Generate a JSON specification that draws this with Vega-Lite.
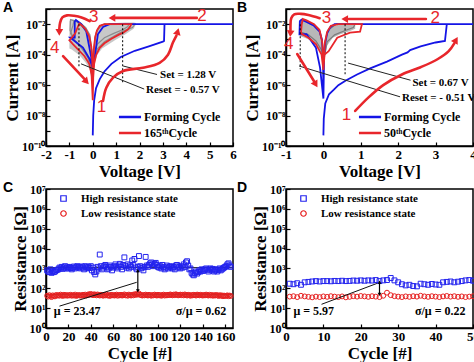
{
"$schema":"https://vega.github.io/schema/vega-lite/v6.json",
"background":"white",
"padding":{"left":2,"top":0,"right":0,"bottom":0},
"bounds":"flush",
"config":{
 "font":"Liberation Serif",
 "view":{"stroke":"black","strokeWidth":1.5},
 "axis":{"grid":false,"domainColor":"black","domainWidth":1.5,"tickColor":"black","tickWidth":1.2,"tickSize":-4,"labelPadding":6,"labelFont":"Liberation Serif","labelFontSize":13,"labelFontWeight":"bold","labelColor":"black","titleFont":"Liberation Serif","titleFontSize":17,"titleFontWeight":"bold","titleColor":"black","labelOverlap":false,"labelFlush":false},
 "axisX":{"titlePadding":2,"labelExpr":"replace(datum.label,'−','-')"},
 "axisY":{"titlePadding":0,"labelPadding":5,"labelFontSize":12}
},
"columns":2,
"spacing":{"row":43,"column":53},
"resolve":{"scale":{"x":"independent","y":"independent","color":"independent","shape":"independent"},"legend":{"color":"independent","shape":"independent"}},
"datasets":{
 "aLines":[
  {"s":"Forming Cycle","o":1,"V":0,"I":5e-10},{"s":"Forming Cycle","o":2,"V":0.02,"I":1e-8},{"s":"Forming Cycle","o":3,"V":0.06,"I":1e-7},{"s":"Forming Cycle","o":4,"V":0.14,"I":6.3e-7},{"s":"Forming Cycle","o":5,"V":0.3,"I":2.5e-6},{"s":"Forming Cycle","o":6,"V":0.5,"I":7.9e-6},{"s":"Forming Cycle","o":7,"V":0.8,"I":2.5e-5},{"s":"Forming Cycle","o":8,"V":1.2,"I":7.1e-5},{"s":"Forming Cycle","o":9,"V":1.8,"I":1.8e-4},{"s":"Forming Cycle","o":10,"V":2.4,"I":3.5e-4},{"s":"Forming Cycle","o":11,"V":3.0,"I":7.1e-4},{"s":"Forming Cycle","o":12,"V":3.05,"I":8e-4},{"s":"Forming Cycle","o":13,"V":3.07,"I":1e-2},{"s":"Forming Cycle","o":14,"V":6.0,"I":1e-2},{"s":"Forming Cycle","o":15,"V":0.72,"I":1e-2},{"s":"Forming Cycle","o":16,"V":0.44,"I":6.6e-3},{"s":"Forming Cycle","o":17,"V":0.22,"I":2.2e-3},{"s":"Forming Cycle","o":18,"V":0.08,"I":6.3e-5},{"s":"Forming Cycle","o":19,"V":0,"I":1.3e-5},{"s":"Forming Cycle","o":20,"V":-0.06,"I":6.3e-5},{"s":"Forming Cycle","o":21,"V":-0.28,"I":3.5e-3},{"s":"Forming Cycle","o":22,"V":-0.49,"I":1e-2},{"s":"Forming Cycle","o":23,"V":-0.72,"I":1.9e-2},{"s":"Forming Cycle","o":24,"V":-0.77,"I":1.5e-2},{"s":"Forming Cycle","o":25,"V":-0.77,"I":1.3e-3},{"s":"Forming Cycle","o":26,"V":-0.96,"I":1.3e-3},{"s":"Forming Cycle","o":27,"V":-0.42,"I":2.9e-4},{"s":"Forming Cycle","o":28,"V":-0.13,"I":5e-5},{"s":"Forming Cycle","o":29,"V":0,"I":1.3e-5},
  {"s":"165ᵗʰCycle","o":1,"V":0,"I":1e-7},{"s":"165ᵗʰCycle","o":2,"V":0.02,"I":3.2e-6},{"s":"165ᵗʰCycle","o":3,"V":0.06,"I":2.5e-5},{"s":"165ᵗʰCycle","o":4,"V":0.15,"I":1e-4},{"s":"165ᵗʰCycle","o":5,"V":0.3,"I":2.8e-4},{"s":"165ᵗʰCycle","o":6,"V":0.5,"I":5.6e-4},{"s":"165ᵗʰCycle","o":7,"V":0.8,"I":1.1e-3},{"s":"165ᵗʰCycle","o":8,"V":1.1,"I":2e-3},{"s":"165ᵗʰCycle","o":9,"V":1.3,"I":2.8e-3},{"s":"165ᵗʰCycle","o":10,"V":1.5,"I":4.5e-3},{"s":"165ᵗʰCycle","o":11,"V":1.6,"I":7e-3},{"s":"165ᵗʰCycle","o":12,"V":1.65,"I":1e-2},{"s":"165ᵗʰCycle","o":13,"V":0.5,"I":1e-2},{"s":"165ᵗʰCycle","o":14,"V":0.3,"I":7.9e-3},{"s":"165ᵗʰCycle","o":15,"V":0.18,"I":4e-3},{"s":"165ᵗʰCycle","o":16,"V":0.1,"I":1.3e-3},{"s":"165ᵗʰCycle","o":17,"V":0.05,"I":2.5e-4},{"s":"165ᵗʰCycle","o":18,"V":0.02,"I":3.2e-5},{"s":"165ᵗʰCycle","o":19,"V":0,"I":1.6e-7},{"s":"165ᵗʰCycle","o":20,"V":-0.02,"I":3.2e-5},{"s":"165ᵗʰCycle","o":21,"V":-0.06,"I":3.2e-4},{"s":"165ᵗʰCycle","o":22,"V":-0.15,"I":1.6e-3},{"s":"165ᵗʰCycle","o":23,"V":-0.3,"I":4.5e-3},{"s":"165ᵗʰCycle","o":24,"V":-0.45,"I":7.9e-3},{"s":"165ᵗʰCycle","o":25,"V":-0.57,"I":1.1e-2},{"s":"165ᵗʰCycle","o":26,"V":-0.62,"I":7.9e-3},{"s":"165ᵗʰCycle","o":27,"V":-0.75,"I":2.5e-3},{"s":"165ᵗʰCycle","o":28,"V":-0.9,"I":1.3e-3},{"s":"165ᵗʰCycle","o":29,"V":-1.0,"I":8.9e-4},{"s":"165ᵗʰCycle","o":30,"V":-0.85,"I":5e-4},{"s":"165ᵗʰCycle","o":31,"V":-0.6,"I":2e-4},{"s":"165ᵗʰCycle","o":32,"V":-0.35,"I":7.9e-5},{"s":"165ᵗʰCycle","o":33,"V":-0.15,"I":2.5e-5},{"s":"165ᵗʰCycle","o":34,"V":-0.05,"I":5e-6},{"s":"165ᵗʰCycle","o":35,"V":0,"I":1e-7}
 ],
 "aArea":[
  {"b":"n","V":-1.0,"I":2.5e-4,"I2":1.6e-2},{"b":"n","V":-0.9,"I":2.2e-4,"I2":2.2e-2},{"b":"n","V":-0.7,"I":1.3e-4,"I2":1.6e-2},{"b":"n","V":-0.5,"I":7e-5,"I2":1e-2},{"b":"n","V":-0.3,"I":3e-5,"I2":4.5e-3},{"b":"n","V":-0.15,"I":1.3e-5,"I2":1.3e-3},{"b":"n","V":-0.05,"I":5e-6,"I2":2e-4},{"b":"n","V":0,"I":3e-6,"I2":3e-5},
  {"b":"p","V":0.02,"I":3e-6,"I2":3e-5},{"b":"p","V":0.08,"I":3e-5,"I2":1e-3},{"b":"p","V":0.2,"I":1e-4,"I2":5e-3},{"b":"p","V":0.4,"I":2.5e-4,"I2":9e-3},{"b":"p","V":0.7,"I":5e-4,"I2":1.1e-2},{"b":"p","V":1.0,"I":1e-3,"I2":1.2e-2},{"b":"p","V":1.4,"I":2.2e-3,"I2":1.3e-2},{"b":"p","V":1.75,"I":5e-3,"I2":1.3e-2},{"b":"p","V":1.85,"I":1e-2,"I2":1.2e-2}
 ],
 "aGray":[
  {"k":"g1","o":1,"V":0,"I":1e-6},{"k":"g1","o":2,"V":0.05,"I":1e-4},{"k":"g1","o":3,"V":0.2,"I":5e-4},{"k":"g1","o":4,"V":0.5,"I":1.3e-3},{"k":"g1","o":5,"V":0.9,"I":2.5e-3},{"k":"g1","o":6,"V":1.3,"I":4.5e-3},{"k":"g1","o":7,"V":1.5,"I":7e-3},{"k":"g1","o":8,"V":1.55,"I":1.05e-2},{"k":"g1","o":9,"V":0.5,"I":1.05e-2},{"k":"g1","o":10,"V":0.25,"I":6e-3},{"k":"g1","o":11,"V":0.1,"I":1.6e-3},{"k":"g1","o":12,"V":0.03,"I":1e-4},{"k":"g1","o":13,"V":0,"I":1e-6},{"k":"g1","o":14,"V":-0.03,"I":1.3e-4},{"k":"g1","o":15,"V":-0.12,"I":2e-3},{"k":"g1","o":16,"V":-0.3,"I":6e-3},{"k":"g1","o":17,"V":-0.55,"I":1.3e-2},{"k":"g1","o":18,"V":-0.8,"I":1.8e-2},{"k":"g1","o":19,"V":-0.85,"I":8e-3},{"k":"g1","o":20,"V":-0.95,"I":2.5e-3},{"k":"g1","o":21,"V":-0.7,"I":6e-4},{"k":"g1","o":22,"V":-0.4,"I":2e-4},{"k":"g1","o":23,"V":-0.15,"I":5e-5},{"k":"g1","o":24,"V":0,"I":1e-6},
  {"k":"g2","o":1,"V":0,"I":3e-6},{"k":"g2","o":2,"V":0.05,"I":4e-5},{"k":"g2","o":3,"V":0.2,"I":2.5e-4},{"k":"g2","o":4,"V":0.5,"I":7e-4},{"k":"g2","o":5,"V":0.9,"I":1.6e-3},{"k":"g2","o":6,"V":1.3,"I":3.5e-3},{"k":"g2","o":7,"V":1.7,"I":6e-3},{"k":"g2","o":8,"V":1.8,"I":1e-2},{"k":"g2","o":9,"V":0.4,"I":9.5e-3},{"k":"g2","o":10,"V":0.15,"I":3e-3},{"k":"g2","o":11,"V":0.04,"I":2e-4},{"k":"g2","o":12,"V":0,"I":3e-6},{"k":"g2","o":13,"V":-0.04,"I":2e-4},{"k":"g2","o":14,"V":-0.2,"I":2.5e-3},{"k":"g2","o":15,"V":-0.45,"I":7e-3},{"k":"g2","o":16,"V":-0.7,"I":1.5e-2},{"k":"g2","o":17,"V":-0.95,"I":2e-2},{"k":"g2","o":18,"V":-0.97,"I":4e-3},{"k":"g2","o":19,"V":-0.8,"I":1e-3},{"k":"g2","o":20,"V":-0.5,"I":3e-4},{"k":"g2","o":21,"V":-0.2,"I":6e-5},{"k":"g2","o":22,"V":0,"I":3e-6}
 ],
 "aArrows":[
  {"k":"a1","o":1,"V":0.44,"I":9e-8},{"k":"a1","o":2,"V":0.58,"I":6.8e-7},{"k":"a1","o":3,"V":0.87,"I":3.1e-6},{"k":"a1","o":4,"V":1.3,"I":8.5e-6},{"k":"a1","o":5,"V":2.15,"I":1.4e-5},{"k":"a1","o":6,"V":2.86,"I":2.9e-5},{"k":"a1","o":7,"V":3.22,"I":1e-4},{"k":"a1","o":8,"V":3.43,"I":6.3e-4},{"k":"a1","o":9,"V":3.58,"I":1.8e-3},
  {"k":"a2","o":1,"V":4.45,"I":2.6e-2},{"k":"a2","o":2,"V":0.95,"I":2.6e-2},
  {"k":"a3","o":1,"V":-0.13,"I":1.6e-2},{"k":"a3","o":2,"V":-0.45,"I":2.7e-2},{"k":"a3","o":3,"V":-0.8,"I":3.6e-2},{"k":"a3","o":4,"V":-1.1,"I":3.8e-2},{"k":"a3","o":5,"V":-1.3,"I":2.8e-2},{"k":"a3","o":6,"V":-1.4,"I":1.2e-2},{"k":"a3","o":7,"V":-1.43,"I":5e-3},
  {"k":"a4","o":1,"V":-1.27,"I":8e-5},{"k":"a4","o":2,"V":-0.35,"I":2.5e-6}
 ],
 "aHeads":[{"k":"a1","V":3.62,"I":2.8e-3},{"k":"a2","V":0.87,"I":2.6e-2},{"k":"a3","V":-1.43,"I":3.5e-3},{"k":"a4","V":-0.3,"I":1.9e-6}],
 "aNums":[{"t":"1","V":0.37,"I":3.6e-8},{"t":"2","V":4.67,"I":3.5e-2},{"t":"3","V":0.04,"I":3.2e-2},{"t":"4","V":-1.63,"I":2.9e-4}],
 "aDots":[{"V":1.28,"I":1e-2,"I2":1.3e-6},{"V":-0.59,"I":1e-2,"I2":1.3e-5}],
 "aLeaders":[{"k":"s","o":1,"V":2.75,"I":5e-6},{"k":"s","o":2,"V":1.3,"I":1.8e-5},{"k":"r","o":1,"V":2.2,"I":5.5e-7},{"k":"r","o":2,"V":-0.5,"I":2.5e-5}],
 "aTexts":[{"t":"Set = 1.28 V","V":2.88,"I":4.6e-6},{"t":"Reset = - 0.57 V","V":2.28,"I":4.8e-7}],
 "bLines":[
  {"s":"Forming Cycle","o":1,"V":0,"I":5e-10},{"s":"Forming Cycle","o":2,"V":0.01,"I":6.3e-9},{"s":"Forming Cycle","o":3,"V":0.05,"I":6.3e-8},{"s":"Forming Cycle","o":4,"V":0.15,"I":2.5e-7},{"s":"Forming Cycle","o":5,"V":0.28,"I":5e-7},{"s":"Forming Cycle","o":6,"V":0.4,"I":1e-6},{"s":"Forming Cycle","o":7,"V":0.6,"I":2e-6},{"s":"Forming Cycle","o":8,"V":0.9,"I":5e-6},{"s":"Forming Cycle","o":9,"V":1.25,"I":1.26e-5},{"s":"Forming Cycle","o":10,"V":1.7,"I":3.5e-5},{"s":"Forming Cycle","o":11,"V":2.1,"I":1e-4},{"s":"Forming Cycle","o":12,"V":2.25,"I":1.4e-4},{"s":"Forming Cycle","o":13,"V":2.32,"I":2e-4},{"s":"Forming Cycle","o":14,"V":2.6,"I":3.5e-4},{"s":"Forming Cycle","o":15,"V":3.0,"I":6.3e-4},{"s":"Forming Cycle","o":16,"V":3.25,"I":7.9e-4},{"s":"Forming Cycle","o":17,"V":3.3,"I":1e-2},{"s":"Forming Cycle","o":18,"V":4.0,"I":1e-2},{"s":"Forming Cycle","o":19,"V":0.3,"I":1e-2},{"s":"Forming Cycle","o":20,"V":0.18,"I":6.3e-3},{"s":"Forming Cycle","o":21,"V":0.1,"I":2.5e-3},{"s":"Forming Cycle","o":22,"V":0.05,"I":6.3e-4},{"s":"Forming Cycle","o":23,"V":0.02,"I":1e-4},{"s":"Forming Cycle","o":24,"V":0,"I":1.3e-7},{"s":"Forming Cycle","o":25,"V":-0.01,"I":1e-4},{"s":"Forming Cycle","o":26,"V":-0.04,"I":1e-3},{"s":"Forming Cycle","o":27,"V":-0.1,"I":3.2e-3},{"s":"Forming Cycle","o":28,"V":-0.25,"I":7.9e-3},{"s":"Forming Cycle","o":29,"V":-0.45,"I":1.4e-2},{"s":"Forming Cycle","o":30,"V":-0.58,"I":2e-2},{"s":"Forming Cycle","o":31,"V":-0.63,"I":1.6e-2},{"s":"Forming Cycle","o":32,"V":-0.64,"I":2.2e-3},{"s":"Forming Cycle","o":33,"V":-0.45,"I":2.2e-3},{"s":"Forming Cycle","o":34,"V":-0.2,"I":2.9e-4},{"s":"Forming Cycle","o":35,"V":-0.09,"I":1.4e-5},{"s":"Forming Cycle","o":36,"V":0,"I":1.3e-7},
  {"s":"50ᵗʰCycle","o":1,"V":0,"I":1e-5},{"s":"50ᵗʰCycle","o":2,"V":0.03,"I":1e-4},{"s":"50ᵗʰCycle","o":3,"V":0.14,"I":1.7e-4},{"s":"50ᵗʰCycle","o":4,"V":0.37,"I":1.3e-3},{"s":"50ᵗʰCycle","o":5,"V":0.71,"I":2.8e-3},{"s":"50ᵗʰCycle","o":6,"V":0.98,"I":3.2e-3},{"s":"50ᵗʰCycle","o":7,"V":1.03,"I":1e-2},{"s":"50ᵗʰCycle","o":8,"V":0.4,"I":1e-2},{"s":"50ᵗʰCycle","o":9,"V":0.2,"I":7.9e-3},{"s":"50ᵗʰCycle","o":10,"V":0.1,"I":3.2e-3},{"s":"50ᵗʰCycle","o":11,"V":0.04,"I":6.3e-4},{"s":"50ᵗʰCycle","o":12,"V":0,"I":1e-5},{"s":"50ᵗʰCycle","o":13,"V":-0.03,"I":6.3e-4},{"s":"50ᵗʰCycle","o":14,"V":-0.1,"I":4e-3},{"s":"50ᵗʰCycle","o":15,"V":-0.25,"I":1e-2},{"s":"50ᵗʰCycle","o":16,"V":-0.45,"I":1.8e-2},{"s":"50ᵗʰCycle","o":17,"V":-0.55,"I":2.2e-2},{"s":"50ᵗʰCycle","o":18,"V":-0.58,"I":1e-2},{"s":"50ᵗʰCycle","o":19,"V":-0.6,"I":2.5e-3},{"s":"50ᵗʰCycle","o":20,"V":-0.4,"I":1.3e-3},{"s":"50ᵗʰCycle","o":21,"V":-0.2,"I":5e-4},{"s":"50ᵗʰCycle","o":22,"V":-0.05,"I":1e-4},{"s":"50ᵗʰCycle","o":23,"V":0,"I":1e-5}
 ],
 "bArea":[
  {"b":"n","V":-0.62,"I":1.6e-3,"I2":2e-2},{"b":"n","V":-0.5,"I":1.3e-3,"I2":1.6e-2},{"b":"n","V":-0.3,"I":8e-4,"I2":1e-2},{"b":"n","V":-0.15,"I":3e-4,"I2":5e-3},{"b":"n","V":-0.05,"I":1e-4,"I2":1.3e-3},{"b":"n","V":0,"I":3e-5,"I2":1e-4},
  {"b":"p","V":0.02,"I":5e-5,"I2":3e-4},{"b":"p","V":0.1,"I":4e-4,"I2":3e-3},{"b":"p","V":0.25,"I":1.3e-3,"I2":7e-3},{"b":"p","V":0.45,"I":2.2e-3,"I2":1e-2},{"b":"p","V":0.7,"I":3.5e-3,"I2":1.1e-2},{"b":"p","V":0.85,"I":5e-3,"I2":1.1e-2}
 ],
 "bGray":[
  {"k":"g1","o":1,"V":0,"I":3e-5},{"k":"g1","o":2,"V":0.1,"I":7e-4},{"k":"g1","o":3,"V":0.3,"I":2e-3},{"k":"g1","o":4,"V":0.6,"I":4e-3},{"k":"g1","o":5,"V":0.8,"I":6e-3},{"k":"g1","o":6,"V":0.85,"I":1.05e-2},{"k":"g1","o":7,"V":0.35,"I":1.05e-2},{"k":"g1","o":8,"V":0.12,"I":4e-3},{"k":"g1","o":9,"V":0.03,"I":5e-4},{"k":"g1","o":10,"V":0,"I":3e-5},{"k":"g1","o":11,"V":-0.03,"I":7e-4},{"k":"g1","o":12,"V":-0.12,"I":5e-3},{"k":"g1","o":13,"V":-0.3,"I":1.1e-2},{"k":"g1","o":14,"V":-0.5,"I":1.7e-2},{"k":"g1","o":15,"V":-0.6,"I":1.8e-2},{"k":"g1","o":16,"V":-0.6,"I":3e-3},{"k":"g1","o":17,"V":-0.4,"I":2e-3},{"k":"g1","o":18,"V":-0.2,"I":8e-4},{"k":"g1","o":19,"V":-0.05,"I":2e-4},{"k":"g1","o":20,"V":0,"I":3e-5}
 ],
 "bArrows":[
  {"k":"a1","o":1,"V":0.85,"I":2e-8},{"k":"a1","o":2,"V":1.2,"I":1.5e-7},{"k":"a1","o":3,"V":1.6,"I":1e-6},{"k":"a1","o":4,"V":2.1,"I":5e-6},{"k":"a1","o":5,"V":2.6,"I":1.5e-5},{"k":"a1","o":6,"V":3.05,"I":5e-5},{"k":"a1","o":7,"V":3.35,"I":1.7e-4},{"k":"a1","o":8,"V":3.5,"I":5.5e-4},
  {"k":"a2","o":1,"V":2.74,"I":2.2e-2},{"k":"a2","o":2,"V":0.68,"I":2.2e-2},
  {"k":"a3","o":1,"V":-0.1,"I":2.5e-2},{"k":"a3","o":2,"V":-0.4,"I":4e-2},{"k":"a3","o":3,"V":-0.6,"I":4.8e-2},{"k":"a3","o":4,"V":-0.78,"I":4.5e-2},{"k":"a3","o":5,"V":-0.86,"I":2.5e-2},{"k":"a3","o":6,"V":-0.88,"I":8e-3},{"k":"a3","o":7,"V":-0.88,"I":4e-3},
  {"k":"a4","o":1,"V":-0.7,"I":1.1e-4},{"k":"a4","o":2,"V":-0.25,"I":1.8e-6}
 ],
 "bHeads":[{"k":"a1","V":3.53,"I":8e-4},{"k":"a2","V":0.6,"I":2.2e-2},{"k":"a3","V":-0.88,"I":2.8e-3},{"k":"a4","V":-0.22,"I":1.3e-6}],
 "bNums":[{"t":"1","V":0.62,"I":1.1e-8},{"t":"2","V":2.99,"I":2.6e-2},{"t":"3","V":0.08,"I":2.7e-2},{"t":"4","V":-0.93,"I":4.8e-4}],
 "bDots":[{"V":0.58,"I":1e-2,"I2":4e-6},{"V":-0.62,"I":1e-2,"I2":1.1e-5}],
 "bLeaders":[{"k":"s","o":1,"V":2.33,"I":2.1e-6},{"k":"s","o":2,"V":0.66,"I":2.8e-5},{"k":"r","o":1,"V":2.05,"I":1.7e-7},{"k":"r","o":2,"V":-0.65,"I":1.8e-5}],
 "bTexts":[{"t":"Set = 0.67 V","V":2.38,"I":1.4e-6},{"t":"Reset = - 0.51 V","V":2.1,"I":1.4e-7}],
 "cData":[
  {"c":1,"H":800,"L":42},{"c":2,"H":700,"L":38},{"c":3,"H":650,"L":45},{"c":4,"H":900,"L":40},{"c":5,"H":600,"L":36},{"c":6,"H":750,"L":44},{"c":7,"H":650,"L":41},{"c":8,"H":700,"L":39},{"c":9,"H":800,"L":46},{"c":10,"H":850,"L":43},
  {"c":11,"H":900,"L":45},{"c":12,"H":1100,"L":42},{"c":13,"H":1000,"L":48},{"c":14,"H":1200,"L":44},{"c":15,"H":950,"L":41},{"c":16,"H":1100,"L":47},{"c":17,"H":1300,"L":43},{"c":18,"H":1000,"L":46},{"c":19,"H":1150,"L":42},{"c":20,"H":1000,"L":45},
  {"c":21,"H":1200,"L":44},{"c":22,"H":1050,"L":47},{"c":23,"H":900,"L":42},{"c":24,"H":1100,"L":45},{"c":25,"H":1250,"L":43},{"c":26,"H":1000,"L":48},{"c":27,"H":1150,"L":41},{"c":28,"H":1300,"L":44},{"c":29,"H":1100,"L":46},{"c":30,"H":1200,"L":43},
  {"c":31,"H":1000,"L":45},{"c":32,"H":1250,"L":42},{"c":33,"H":1100,"L":47},{"c":34,"H":900,"L":44},{"c":35,"H":1300,"L":48},{"c":36,"H":1150,"L":43},{"c":37,"H":1000,"L":46},{"c":38,"H":1200,"L":50},{"c":39,"H":1050,"L":47},{"c":40,"H":1300,"L":52},
  {"c":41,"H":800,"L":48},{"c":42,"H":1100,"L":45},{"c":43,"H":650,"L":50},{"c":44,"H":500,"L":47},{"c":45,"H":700,"L":44},{"c":46,"H":1200,"L":49},{"c":47,"H":1000,"L":46},{"c":48,"H":5000,"L":43},{"c":49,"H":1300,"L":47},{"c":50,"H":900,"L":45},
  {"c":51,"H":1100,"L":42},{"c":52,"H":1300,"L":46},{"c":53,"H":1500,"L":44},{"c":54,"H":1200,"L":48},{"c":55,"H":900,"L":43},{"c":56,"H":1000,"L":45},{"c":57,"H":1400,"L":41},{"c":58,"H":1200,"L":47},{"c":59,"H":800,"L":44},{"c":60,"H":1100,"L":46},
  {"c":61,"H":1300,"L":43},{"c":62,"H":1600,"L":45},{"c":63,"H":1200,"L":48},{"c":64,"H":1000,"L":42},{"c":65,"H":1400,"L":46},{"c":66,"H":1700,"L":44},{"c":67,"H":1200,"L":47},{"c":68,"H":900,"L":43},{"c":69,"H":1500,"L":45},{"c":70,"H":3600,"L":49},
  {"c":71,"H":1300,"L":44},{"c":72,"H":1100,"L":46},{"c":73,"H":1600,"L":42},{"c":74,"H":1000,"L":48},{"c":75,"H":1400,"L":45},{"c":76,"H":1200,"L":43},{"c":77,"H":2500,"L":47},{"c":78,"H":1500,"L":44},{"c":79,"H":3000,"L":50},{"c":80,"H":1100,"L":46},
  {"c":81,"H":900,"L":52},{"c":82,"H":1200,"L":48},{"c":83,"H":4200,"L":55},{"c":84,"H":1300,"L":47},{"c":85,"H":1000,"L":45},{"c":86,"H":1100,"L":43},{"c":87,"H":800,"L":46},{"c":88,"H":1200,"L":44},{"c":89,"H":3800,"L":48},{"c":90,"H":1400,"L":45},
  {"c":91,"H":1200,"L":43},{"c":92,"H":1500,"L":47},{"c":93,"H":1800,"L":45},{"c":94,"H":2000,"L":42},{"c":95,"H":1600,"L":46},{"c":96,"H":1300,"L":44},{"c":97,"H":1700,"L":48},{"c":98,"H":1900,"L":45},{"c":99,"H":1500,"L":43},{"c":100,"H":1200,"L":47},
  {"c":101,"H":1100,"L":44},{"c":102,"H":1300,"L":46},{"c":103,"H":1000,"L":42},{"c":104,"H":1500,"L":45},{"c":105,"H":1200,"L":48},{"c":106,"H":900,"L":43},{"c":107,"H":1100,"L":46},{"c":108,"H":1400,"L":44},{"c":109,"H":1000,"L":47},{"c":110,"H":1200,"L":45},
  {"c":111,"H":1300,"L":49},{"c":112,"H":1100,"L":46},{"c":113,"H":1000,"L":44},{"c":114,"H":1200,"L":48},{"c":115,"H":900,"L":45},{"c":116,"H":1400,"L":50},{"c":117,"H":1500,"L":47},{"c":118,"H":1100,"L":44},{"c":119,"H":1200,"L":46},{"c":120,"H":1000,"L":48},
  {"c":121,"H":1300,"L":45},{"c":122,"H":1100,"L":47},{"c":123,"H":1600,"L":44},{"c":124,"H":1200,"L":49},{"c":125,"H":2000,"L":46},{"c":126,"H":2300,"L":43},{"c":127,"H":1400,"L":47},{"c":128,"H":900,"L":45},{"c":129,"H":1000,"L":42},{"c":130,"H":600,"L":46},
  {"c":131,"H":500,"L":44},{"c":132,"H":450,"L":47},{"c":133,"H":600,"L":45},{"c":134,"H":700,"L":43},{"c":135,"H":550,"L":48},{"c":136,"H":650,"L":46},{"c":137,"H":800,"L":44},{"c":138,"H":700,"L":47},{"c":139,"H":900,"L":45},{"c":140,"H":750,"L":43},
  {"c":141,"H":800,"L":46},{"c":142,"H":900,"L":44},{"c":143,"H":1000,"L":48},{"c":144,"H":850,"L":45},{"c":145,"H":700,"L":43},{"c":146,"H":900,"L":47},{"c":147,"H":1000,"L":44},{"c":148,"H":800,"L":46},{"c":149,"H":950,"L":42},{"c":150,"H":700,"L":45},
  {"c":151,"H":800,"L":43},{"c":152,"H":900,"L":46},{"c":153,"H":700,"L":44},{"c":154,"H":850,"L":41},{"c":155,"H":1000,"L":45},{"c":156,"H":800,"L":42},{"c":157,"H":900,"L":44},{"c":158,"H":1000,"L":40},{"c":159,"H":1100,"L":43},{"c":160,"H":1200,"L":41},
  {"c":161,"H":1300,"L":42},{"c":162,"H":1600,"L":44},{"c":163,"H":1800,"L":40},{"c":164,"H":1400,"L":43},{"c":165,"H":1200,"L":41}
 ],
 "dData":[
  {"c":1,"H":170,"L":38},{"c":2,"H":160,"L":40},{"c":3,"H":180,"L":36},{"c":4,"H":150,"L":42},{"c":5,"H":200,"L":39},{"c":6,"H":210,"L":37},{"c":7,"H":220,"L":35},{"c":8,"H":230,"L":38},{"c":9,"H":220,"L":36},{"c":10,"H":230,"L":39},
  {"c":11,"H":230,"L":37},{"c":12,"H":225,"L":40},{"c":13,"H":235,"L":38},{"c":14,"H":230,"L":36},{"c":15,"H":240,"L":39},{"c":16,"H":230,"L":35},{"c":17,"H":235,"L":37},{"c":18,"H":245,"L":40},{"c":19,"H":240,"L":38},{"c":20,"H":250,"L":41},
  {"c":21,"H":240,"L":39},{"c":22,"H":250,"L":37},{"c":23,"H":245,"L":40},{"c":24,"H":260,"L":38},{"c":25,"H":230,"L":36},{"c":26,"H":250,"L":42},{"c":27,"H":260,"L":60},{"c":28,"H":330,"L":45},{"c":29,"H":250,"L":40},{"c":30,"H":200,"L":38},
  {"c":31,"H":160,"L":36},{"c":32,"H":140,"L":39},{"c":33,"H":150,"L":37},{"c":34,"H":130,"L":40},{"c":35,"H":125,"L":38},{"c":36,"H":170,"L":42},{"c":37,"H":160,"L":39},{"c":38,"H":150,"L":37},{"c":39,"H":165,"L":40},{"c":40,"H":155,"L":38},
  {"c":41,"H":150,"L":36},{"c":42,"H":200,"L":39},{"c":43,"H":210,"L":41},{"c":44,"H":220,"L":38},{"c":45,"H":200,"L":40},{"c":46,"H":215,"L":37},{"c":47,"H":230,"L":39},{"c":48,"H":250,"L":36},{"c":49,"H":260,"L":38},{"c":50,"H":240,"L":40}
 ],
 "cMeans":[{"R":1090},{"R":47}],
 "cArrow":[{"c":82,"R":780,"R2":75}],
 "cLeader":[{"o":1,"c":12,"R":12.6},{"o":2,"c":81,"R":200}],
 "cTexts":[{"t":"μ = 23.47","c":7,"R":7.2,"a":"l"},{"t":"σ/μ = 0.62","c":161,"R":7.2,"a":"r"}],
 "dArrow":[{"c":25,"R":205,"R2":50}],
 "dLeader":[{"o":1,"c":9.5,"R":15.6},{"o":2,"c":24.3,"R":175}],
 "dTexts":[{"t":"μ = 5.97","c":2,"R":6.8,"a":"l"},{"t":"σ/μ = 0.22","c":48,"R":6.8,"a":"r"}]
},
"concat":[
 {
  "width":187,"height":137,
  "title":{"text":"A","dx":-43,"offset":-12,"anchor":"start","frame":"group","font":"Liberation Sans","fontSize":14,"fontWeight":"bold","color":"black"},
  "encoding":{
   "x":{"field":"V","type":"quantitative","scale":{"domain":[-2,6],"nice":false,"zero":false},"axis":{"title":"Voltage [V]","values":[-2,-1,0,1,2,3,4,5,6]}},
   "y":{"field":"I","type":"quantitative","scale":{"type":"log","domain":[1e-10,0.1],"nice":false},"axis":{"title":"Current [A]","values":[1e-10,1e-9,1e-8,1e-7,1e-6,1e-5,1e-4,1e-3,1e-2,1e-1],"labelExpr":"['10⁻¹⁰','','10⁻⁸','','10⁻⁶','','10⁻⁴','','10⁻²',''][round(log(datum.value)/LN10)+10]"}}
  },
  "layer":[
   {"data":{"name":"aArea"},"mark":{"type":"area","color":"#c2c2c2","opacity":0.9},"encoding":{"y2":{"field":"I2"},"detail":{"field":"b"}}},
   {"data":{"name":"aGray"},"mark":{"type":"line","color":"#8c8c8c","strokeWidth":1.2},"encoding":{"detail":{"field":"k"},"order":{"field":"o"}}},
   {"data":{"name":"aLines"},"mark":{"type":"line","strokeWidth":1.8},"encoding":{"order":{"field":"o"},"color":{"field":"s","type":"nominal","scale":{"domain":["Forming Cycle","165ᵗʰCycle"],"range":["#1414e6","#e8262b"]},"legend":{"title":null,"orient":"none","legendX":74,"legendY":98,"symbolType":"M-1.3,0H1.3","symbolSize":289,"symbolStrokeWidth":2.5,"labelFontSize":12,"labelFont":"Liberation Serif","labelFontWeight":"bold","labelColor":"black","labelOffset":4,"rowPadding":0,"padding":0}}}},
   {"data":{"name":"aDots"},"mark":{"type":"rule","color":"black","strokeDash":[2,2],"strokeWidth":1},"encoding":{"y2":{"field":"I2"}}},
   {"data":{"name":"aLeaders"},"mark":{"type":"line","color":"#222222","strokeWidth":1},"encoding":{"detail":{"field":"k"},"order":{"field":"o"}}},
   {"data":{"name":"aArrows"},"mark":{"type":"line","color":"#e8262b","strokeWidth":2.6,"interpolate":"catmull-rom","strokeCap":"round"},"encoding":{"detail":{"field":"k"},"order":{"field":"o"}}},
   {"data":{"name":"aHeads"},"transform":[{"filter":"datum.k=='a1'"}],"mark":{"type":"point","shape":"triangle","angle":16,"filled":true,"color":"#e8262b","opacity":1,"size":60}},
   {"data":{"name":"aHeads"},"transform":[{"filter":"datum.k=='a2'"}],"mark":{"type":"point","shape":"triangle","angle":270,"filled":true,"color":"#e8262b","opacity":1,"size":60}},
   {"data":{"name":"aHeads"},"transform":[{"filter":"datum.k=='a3'"}],"mark":{"type":"point","shape":"triangle","angle":180,"filled":true,"color":"#e8262b","opacity":1,"size":60}},
   {"data":{"name":"aHeads"},"transform":[{"filter":"datum.k=='a4'"}],"mark":{"type":"point","shape":"triangle","angle":137,"filled":true,"color":"#e8262b","opacity":1,"size":60}},
   {"data":{"name":"aNums"},"mark":{"type":"text","color":"#e8262b","font":"Liberation Sans","fontSize":17,"align":"center","baseline":"middle"},"encoding":{"text":{"field":"t"}}},
   {"data":{"name":"aTexts"},"mark":{"type":"text","color":"black","font":"Liberation Serif","fontWeight":"bold","fontSize":11,"align":"left","baseline":"middle"},"encoding":{"text":{"field":"t"}}}
  ]
 },
 {
  "width":187,"height":137,
  "title":{"text":"B","dx":-49,"offset":-12,"anchor":"start","frame":"group","font":"Liberation Sans","fontSize":14,"fontWeight":"bold","color":"black"},
  "encoding":{
   "x":{"field":"V","type":"quantitative","scale":{"domain":[-1,4],"nice":false,"zero":false},"axis":{"title":"Voltage [V]","values":[-1,0,1,2,3,4]}},
   "y":{"field":"I","type":"quantitative","scale":{"type":"log","domain":[1e-10,0.1],"nice":false},"axis":{"title":"Current [A]","values":[1e-10,1e-9,1e-8,1e-7,1e-6,1e-5,1e-4,1e-3,1e-2,1e-1],"labelExpr":"['10⁻¹⁰','','10⁻⁸','','10⁻⁶','','10⁻⁴','','10⁻²',''][round(log(datum.value)/LN10)+10]"}}
  },
  "layer":[
   {"data":{"name":"bArea"},"mark":{"type":"area","color":"#b0b0b0","opacity":0.9},"encoding":{"y2":{"field":"I2"},"detail":{"field":"b"}}},
   {"data":{"name":"bGray"},"mark":{"type":"line","color":"#7c7c7c","strokeWidth":1.2},"encoding":{"detail":{"field":"k"},"order":{"field":"o"}}},
   {"data":{"name":"bLines"},"mark":{"type":"line","strokeWidth":1.8},"encoding":{"order":{"field":"o"},"color":{"field":"s","type":"nominal","scale":{"domain":["Forming Cycle","50ᵗʰCycle"],"range":["#1414e6","#e8262b"]},"legend":{"title":null,"orient":"none","legendX":74,"legendY":98,"symbolType":"M-1.3,0H1.3","symbolSize":289,"symbolStrokeWidth":2.5,"labelFontSize":12,"labelFont":"Liberation Serif","labelFontWeight":"bold","labelColor":"black","labelOffset":4,"rowPadding":0,"padding":0}}}},
   {"data":{"name":"bDots"},"mark":{"type":"rule","color":"black","strokeDash":[2,2],"strokeWidth":1},"encoding":{"y2":{"field":"I2"}}},
   {"data":{"name":"bLeaders"},"mark":{"type":"line","color":"#222222","strokeWidth":1},"encoding":{"detail":{"field":"k"},"order":{"field":"o"}}},
   {"data":{"name":"bArrows"},"mark":{"type":"line","color":"#e8262b","strokeWidth":2.6,"interpolate":"catmull-rom","strokeCap":"round"},"encoding":{"detail":{"field":"k"},"order":{"field":"o"}}},
   {"data":{"name":"bHeads"},"transform":[{"filter":"datum.k=='a1'"}],"mark":{"type":"point","shape":"triangle","angle":30,"filled":true,"color":"#e8262b","opacity":1,"size":60}},
   {"data":{"name":"bHeads"},"transform":[{"filter":"datum.k=='a2'"}],"mark":{"type":"point","shape":"triangle","angle":270,"filled":true,"color":"#e8262b","opacity":1,"size":60}},
   {"data":{"name":"bHeads"},"transform":[{"filter":"datum.k=='a3'"}],"mark":{"type":"point","shape":"triangle","angle":185,"filled":true,"color":"#e8262b","opacity":1,"size":60}},
   {"data":{"name":"bHeads"},"transform":[{"filter":"datum.k=='a4'"}],"mark":{"type":"point","shape":"triangle","angle":150,"filled":true,"color":"#e8262b","opacity":1,"size":60}},
   {"data":{"name":"bNums"},"mark":{"type":"text","color":"#e8262b","font":"Liberation Sans","fontSize":17,"align":"center","baseline":"middle"},"encoding":{"text":{"field":"t"}}},
   {"data":{"name":"bTexts"},"mark":{"type":"text","color":"black","font":"Liberation Serif","fontWeight":"bold","fontSize":11,"align":"left","baseline":"middle"},"encoding":{"text":{"field":"t"}}}
  ]
 },
 {
  "width":187,"height":139,
  "title":{"text":"C","dx":-43,"offset":-12,"anchor":"start","frame":"group","font":"Liberation Sans","fontSize":14,"fontWeight":"bold","color":"black"},
  "encoding":{
   "x":{"field":"c","type":"quantitative","scale":{"domain":[0,167],"nice":false,"zero":false},"axis":{"title":"Cycle [#]","values":[0,20,40,60,80,100,120,140,160]}},
   "y":{"field":"R","type":"quantitative","scale":{"type":"log","domain":[1,1e7],"nice":false},"axis":{"title":"Resistance [Ω]","values":[1,10,100,1000,10000,100000,1000000,10000000],"labelExpr":"['10⁰','10¹','10²','10³','10⁴','10⁵','10⁶','10⁷'][round(log(datum.value)/LN10)]"}}
  },
  "layer":[
   {"data":{"name":"cMeans"},"mark":{"type":"rule","color":"#111111","strokeWidth":1},"encoding":{"x":null}},
   {"data":{"name":"cData"},"transform":[{"fold":["H","L"],"as":["st","R"]}],"mark":{"type":"point","filled":false,"strokeWidth":1,"size":24,"opacity":1},"encoding":{"color":{"field":"st","type":"nominal","scale":{"domain":["H","L"],"range":["#2323ee","#e62020"]},"legend":{"title":null,"orient":"none","legendX":12,"legendY":4,"labelExpr":"datum.label=='H'?'High resistance state':'Low resistance state'","labelFontSize":11,"labelFont":"Liberation Serif","labelFontWeight":"bold","labelColor":"black","labelOffset":12,"rowPadding":3,"padding":0,"symbolSize":30,"symbolStrokeWidth":1.2}},"shape":{"field":"st","type":"nominal","scale":{"domain":["H","L"],"range":["square","circle"]},"legend":{"title":null,"orient":"none","legendX":12,"legendY":4,"labelExpr":"datum.label=='H'?'High resistance state':'Low resistance state'","labelFontSize":11,"labelFont":"Liberation Serif","labelFontWeight":"bold","labelColor":"black","labelOffset":12,"rowPadding":3,"padding":0,"symbolSize":30,"symbolStrokeWidth":1.2}}}},
   {"data":{"name":"cArrow"},"mark":{"type":"rule","color":"black","strokeWidth":1.2},"encoding":{"y2":{"field":"R2"}}},
   {"data":{"name":"cArrow"},"mark":{"type":"point","shape":"triangle-up","filled":true,"color":"black","opacity":1,"size":14}},
   {"data":{"name":"cArrow"},"mark":{"type":"point","shape":"triangle-down","filled":true,"color":"black","opacity":1,"size":14},"encoding":{"y":{"field":"R2","type":"quantitative"}}},
   {"data":{"name":"cLeader"},"mark":{"type":"line","color":"#111111","strokeWidth":1},"encoding":{"order":{"field":"o"}}},
   {"data":{"name":"cTexts"},"transform":[{"filter":"datum.a=='l'"}],"mark":{"type":"text","color":"black","font":"Liberation Serif","fontWeight":"bold","fontSize":12,"align":"left","baseline":"middle"},"encoding":{"text":{"field":"t"}}},
   {"data":{"name":"cTexts"},"transform":[{"filter":"datum.a=='r'"}],"mark":{"type":"text","color":"black","font":"Liberation Serif","fontWeight":"bold","fontSize":12,"align":"right","baseline":"middle"},"encoding":{"text":{"field":"t"}}}
  ]
 },
 {
  "width":187,"height":139,
  "title":{"text":"D","dx":-49,"offset":-12,"anchor":"start","frame":"group","font":"Liberation Sans","fontSize":14,"fontWeight":"bold","color":"black"},
  "encoding":{
   "x":{"field":"c","type":"quantitative","scale":{"domain":[0,50],"nice":false,"zero":false},"axis":{"title":"Cycle [#]","values":[0,10,20,30,40,50]}},
   "y":{"field":"R","type":"quantitative","scale":{"type":"log","domain":[1,1e7],"nice":false},"axis":{"title":"Resistance [Ω]","values":[1,10,100,1000,10000,100000,1000000,10000000],"labelExpr":"['10⁰','10¹','10²','10³','10⁴','10⁵','10⁶','10⁷'][round(log(datum.value)/LN10)]"}}
  },
  "layer":[
   {"data":{"name":"dData"},"transform":[{"fold":["H","L"],"as":["st","R"]}],"mark":{"type":"point","filled":false,"strokeWidth":1,"size":24,"opacity":1},"encoding":{"color":{"field":"st","type":"nominal","scale":{"domain":["H","L"],"range":["#2323ee","#e62020"]},"legend":{"title":null,"orient":"none","legendX":12,"legendY":4,"labelExpr":"datum.label=='H'?'High resistance state':'Low resistance state'","labelFontSize":11,"labelFont":"Liberation Serif","labelFontWeight":"bold","labelColor":"black","labelOffset":12,"rowPadding":3,"padding":0,"symbolSize":30,"symbolStrokeWidth":1.2}},"shape":{"field":"st","type":"nominal","scale":{"domain":["H","L"],"range":["square","circle"]},"legend":{"title":null,"orient":"none","legendX":12,"legendY":4,"labelExpr":"datum.label=='H'?'High resistance state':'Low resistance state'","labelFontSize":11,"labelFont":"Liberation Serif","labelFontWeight":"bold","labelColor":"black","labelOffset":12,"rowPadding":3,"padding":0,"symbolSize":30,"symbolStrokeWidth":1.2}}}},
   {"data":{"name":"dArrow"},"mark":{"type":"rule","color":"black","strokeWidth":1.2},"encoding":{"y2":{"field":"R2"}}},
   {"data":{"name":"dArrow"},"mark":{"type":"point","shape":"triangle-up","filled":true,"color":"black","opacity":1,"size":14}},
   {"data":{"name":"dArrow"},"mark":{"type":"point","shape":"triangle-down","filled":true,"color":"black","opacity":1,"size":14},"encoding":{"y":{"field":"R2","type":"quantitative"}}},
   {"data":{"name":"dLeader"},"mark":{"type":"line","color":"#111111","strokeWidth":1},"encoding":{"order":{"field":"o"}}},
   {"data":{"name":"dTexts"},"transform":[{"filter":"datum.a=='l'"}],"mark":{"type":"text","color":"black","font":"Liberation Serif","fontWeight":"bold","fontSize":12,"align":"left","baseline":"middle"},"encoding":{"text":{"field":"t"}}},
   {"data":{"name":"dTexts"},"transform":[{"filter":"datum.a=='r'"}],"mark":{"type":"text","color":"black","font":"Liberation Serif","fontWeight":"bold","fontSize":12,"align":"right","baseline":"middle"},"encoding":{"text":{"field":"t"}}}
  ]
 }
]
}
